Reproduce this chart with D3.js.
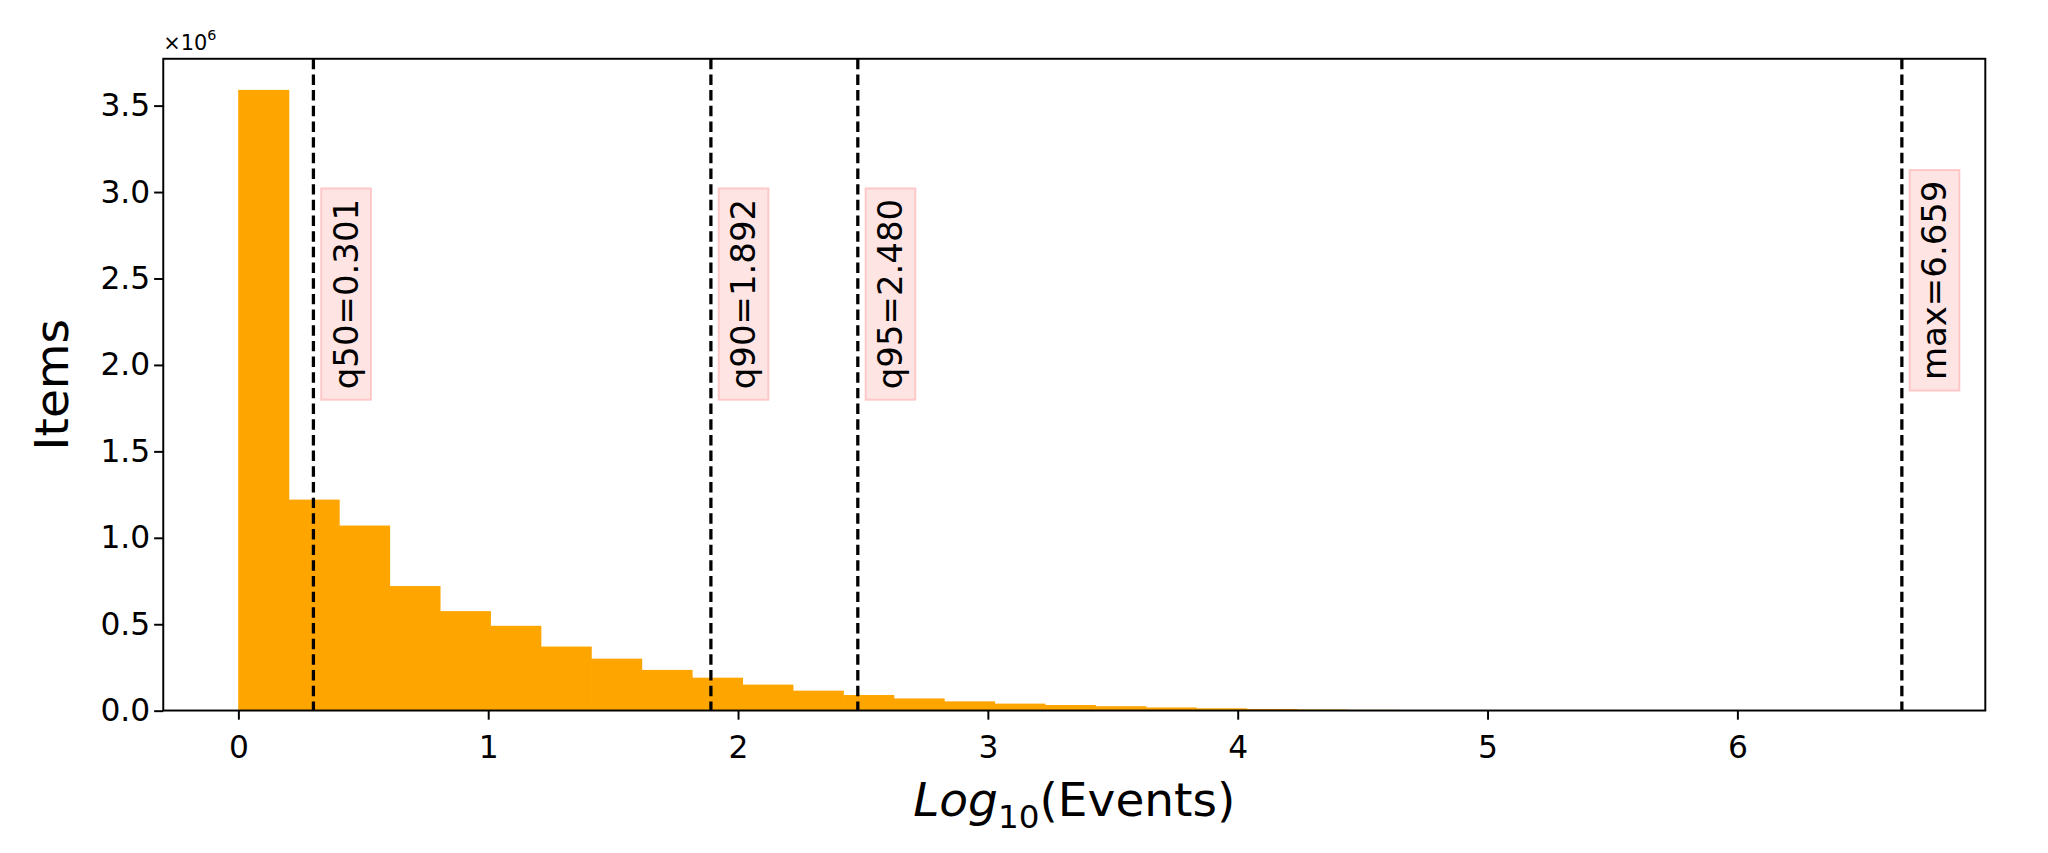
<!DOCTYPE html>
<html><head><meta charset="utf-8">
<script src="https://cdn.jsdelivr.net/npm/d3@7"></script>
<style>body{margin:0;background:#fff}text{font-family:"DejaVu Sans",sans-serif}</style>
</head><body><svg id="c" width="2048" height="853"></svg>
<script>
// histogram counts (millions), bins of equal width from 0 to 6.659
var binWidth = 6.659 / 33;
var counts = [3.59, 1.22, 1.07, 0.72, 0.575, 0.49, 0.37, 0.30, 0.235, 0.19, 0.15, 0.115,
  0.09, 0.07, 0.053, 0.04, 0.032, 0.025, 0.018, 0.013, 0.009, 0.006, 0.004, 0.002,
  0.001, 0.0006, 0.0003, 0.0002, 0.0001, 0.00005, 0.00003, 0.00002, 0.00001];
var markers = [{name: "q50", v: 0.301}, {name: "q90", v: 1.892}, {name: "q95", v: 2.480}, {name: "max", v: 6.659}];
var yTicks = [0, 0.5, 1, 1.5, 2, 2.5, 3, 3.5];
var xTicks = [0, 1, 2, 3, 4, 5, 6];

// layout was measured on a 1568-wide copy; scale up to 2048
var svg = d3.select("#c").append("g").attr("transform", "scale(" + (2048 / 1568) + ")");
var L = 125, R = 1520, T = 45, B = 544;
var x = d3.scaleLinear().domain([-0.3, 6.993]).range([L, R]);
var y = d3.scaleLinear().domain([0, 3.77]).range([B, T]);

svg.selectAll("rect.bar").data(counts).enter().append("rect")
  .attr("x", function(d, i) { return x(i * binWidth); })
  .attr("width", function() { return x(binWidth) - x(0) + 0.5; })
  .attr("y", function(d) { return y(d); })
  .attr("height", function(d) { return B - y(d); })
  .attr("fill", "#ffa500");

var ax = svg.append("g").attr("transform", "translate(0," + B + ")")
  .call(d3.axisBottom(x).tickValues(xTicks).tickFormat(d3.format("d")).tickSize(7));
var ay = svg.append("g").attr("transform", "translate(" + L + ",0)")
  .call(d3.axisLeft(y).tickValues(yTicks).tickFormat(d3.format(".1f")).tickSize(7));
[ax, ay].forEach(function(a) {
  a.select(".domain").remove();
  a.selectAll("text").attr("font-size", 24).attr("fill", "#000");
  a.selectAll("line").attr("stroke", "#000").attr("stroke-width", 1.5);
});
ax.selectAll("text").attr("dy", "1.1em");
svg.append("rect").attr("x", L).attr("y", T).attr("width", R - L).attr("height", B - T)
  .attr("fill", "none").attr("stroke", "#000").attr("stroke-width", 1.5);

svg.append("text").attr("x", L).attr("y", 38).attr("font-size", 16).text("×10")
  .append("tspan").attr("font-size", 11).attr("dy", -7).text("6");

svg.append("text").attr("transform", "translate(52," + ((T + B) / 2) + ") rotate(-90)")
  .attr("text-anchor", "middle").attr("font-size", 36).text("Items");

var xl = svg.append("text").attr("x", (L + R) / 2).attr("y", 625).attr("text-anchor", "middle").attr("font-size", 36);
xl.append("tspan").attr("font-style", "italic").text("Log");
xl.append("tspan").attr("font-size", 25).attr("dy", 9).text("10");
xl.append("tspan").attr("dy", -9).text("(Events)");

var m = svg.selectAll("g.mk").data(markers).enter().append("g");
m.append("line").attr("x1", function(d) { return x(d.v); }).attr("x2", function(d) { return x(d.v); })
  .attr("y1", T).attr("y2", B).attr("stroke", "#000").attr("stroke-width", 2.5).attr("stroke-dasharray", "8,4");
m.each(function(d) {
  var g = d3.select(this);
  var top = d.name === "max" ? 124 : 131;
  var t = g.append("text").attr("transform", "translate(" + (x(d.v) + 34) + "," + (top + 175 - 8) + ") rotate(-90)")
    .attr("font-size", 26).text(d.name + "=" + d.v.toFixed(3));
  var bb = t.node().getBBox();
  g.insert("rect", "text").attr("x", x(d.v) + 6).attr("y", top + 167 - bb.width - 8)
    .attr("width", 38).attr("height", bb.width + 16)
    .attr("fill", "#ffe4e4").attr("stroke", "#ffc8c8").attr("stroke-width", 1.5);
});
</script></body></html>
